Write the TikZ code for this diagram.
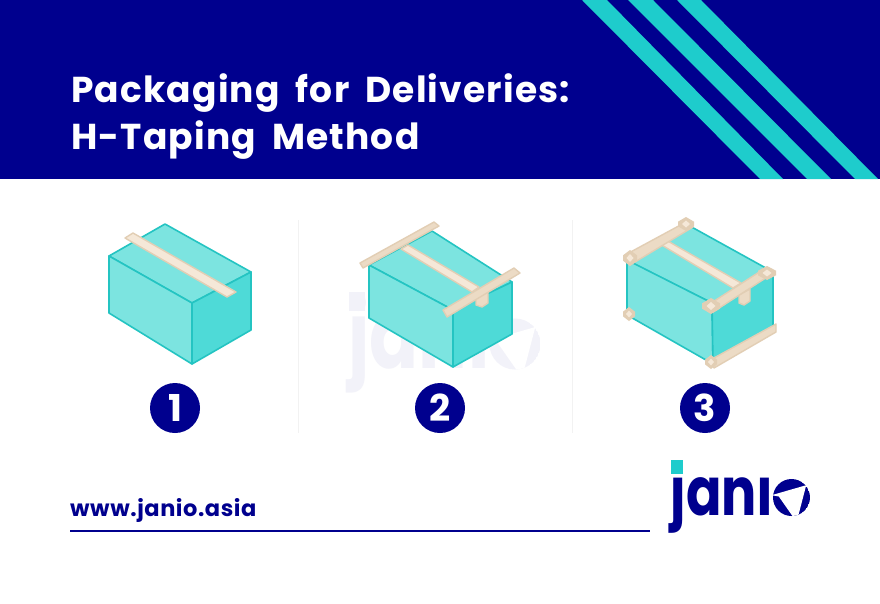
\documentclass[tikz,border=0pt]{standalone}
\usepackage{fontspec}
\usepackage{graphicx}
\setmainfont{Poppins}
\newfontfamily\titlefont[LetterSpace=3.3,WordSpace=1.8]{Poppins}
\newfontfamily\linkfont[LetterSpace=2.5]{Poppins}
\usepackage{tikz}
\definecolor{janionavy}{RGB}{0,0,142}
\definecolor{janioteal}{RGB}{30,204,204}
\definecolor{boxlight}{RGB}{124,228,224}
\definecolor{boxdark}{RGB}{78,218,215}
\definecolor{boxline}{RGB}{36,196,194}
\definecolor{tapefill}{RGB}{245,232,216}
\definecolor{tapetan}{RGB}{236,219,197}
\definecolor{tapeline}{RGB}{226,206,180}
\tikzset{
	boxface/.style={draw=boxline, line width=1.6pt, line join=round, fill=boxlight},
	boxside/.style={boxface, fill=boxdark},
	tape/.style={draw=tapeline, line width=1.4pt, line join=round, fill=tapefill},
	tapecross/.style={tape, fill=tapetan},
	stripe/.style={fill=janioteal},
	titleline/.style={anchor=base west, inner sep=0pt, text=white, font=\titlefont\fontsize{36}{36}\selectfont\bfseries},
	numberdot/.style={circle, fill=janionavy, text=white, minimum size=50pt, inner sep=0pt, font=\fontsize{37}{37}\selectfont\bfseries},
	divider/.style={draw=black!5, line width=1pt}
}
% logo, with the middle of its round mark at the origin of the scope
\def\janiologo[#1][#2][#3]{
	\node[anchor=base west, inner sep=0pt, text=#1, font=\fontsize{67}{67}\selectfont\bfseries] (#3) at (-121, 17.5) {\scalebox{0.78}[1]{janı}};
	\fill[#2] (-120.5, -38) rectangle (-109, -24);
	\begin{scope}
		\clip (0, 0) circle (18.5);
		\fill[#1] (0, 0) circle (18.5);
		\fill[white] (14.7, -12.3) -- (-20, -2.3) -- (-12.7, -1) -- (2, 20) -- (6.3, 20) -- cycle;
	\end{scope}
}
% corner wrap of the tape: middle, half width, half height
\def\tapecorner(#1,#2,#3,#4){
	\fill[tapeline] (#1-#3, #2-#4/3) -- (#1, #2-#4) -- (#1+#3, #2-#4/3) -- (#1+#3, #2+#4/3) -- (#1, #2+#4) -- (#1-#3, #2+#4/3) -- cycle;
	\fill[tapefill] (#1-#3/2, #2) -- (#1, #2-#4/2) -- (#1+#3/2, #2) -- (#1, #2+#4/2) -- cycle;
}

\begin{document}
\begin{tikzpicture}[x=1pt, y=-1pt]
	%%%%% START %%%%%
	\useasboundingbox (0, 0) rectangle (880, 603);
	\fill[white] (0, 0) rectangle (880, 603);

	% header
	\fill[janionavy] (0, 0) rectangle (880, 179);
	\fill[stripe] (582, 0) -- (607, 0) -- (783, 179) -- (760, 179) -- cycle;
	\fill[stripe] (628, 0) -- (653, 0) -- (831, 179) -- (807, 179) -- cycle;
	\fill[stripe] (677, 0) -- (701, 0) -- (878, 179) -- (855, 179) -- cycle;
	\node[titleline] (titleone) at (71, 102) {Packaging for Deliveries:};
	\node[titleline] (titletwo) at (71, 149) {H-Taping Method};

	% watermark
	\begin{scope}[shift={(515, 344)}, scale=1.38, transform shape]
		\janiologo[janionavy!5][janionavy!5][markwater]
	\end{scope}

	\draw[divider] (298.5, 220) -- (298.5, 433);
	\draw[divider] (572, 220) -- (572, 433);

	% box 1
	\draw[boxface] (109, 256) -- (165, 224) -- (251, 272) -- (192, 303) -- cycle;
	\draw[boxface] (109, 256) -- (192, 303) -- (192, 364) -- (109, 313) -- cycle;
	\draw[boxside] (192, 303) -- (251, 272) -- (251, 330) -- (192, 364) -- cycle;
	\draw[tape] (125, 238) -- (133, 233) -- (236, 292) -- (227, 297) -- cycle;

	% box 2
	\draw[boxface] (369, 265) -- (432, 231) -- (512, 282) -- (453, 310) -- cycle;
	\draw[boxface] (369, 265) -- (453, 310) -- (453, 367) -- (369, 318) -- cycle;
	\draw[boxside] (453, 310) -- (512, 282) -- (512, 334) -- (453, 367) -- cycle;
	\draw[tape] (401, 249) -- (408, 245) -- (479, 287) -- (472, 292) -- cycle;
	\draw[tapecross] (476, 295) -- (488, 290) -- (488, 303) -- (482, 307) -- (476, 305) -- cycle;
	\draw[tapecross] (360, 263) -- (434, 222) -- (439, 226) -- (363, 268) -- cycle;
	\draw[tapecross] (443, 310) -- (514, 268) -- (520, 273) -- (447, 317) -- cycle;

	% box 3
	\draw[boxface] (630, 262) -- (688, 225) -- (773, 272) -- (712, 303) -- cycle;
	\draw[boxface] (627, 260) -- (712, 303) -- (713, 364) -- (627, 315) -- cycle;
	\draw[boxside] (712, 303) -- (773, 272) -- (773, 327) -- (713, 364) -- cycle;
	\draw[tape] (660, 244) -- (666, 240) -- (741, 283) -- (733, 288) -- cycle;
	\draw[tapecross] (739, 295) -- (750, 289) -- (750, 301) -- (744, 305) -- (739, 303) -- cycle;
	\draw[tapecross] (625, 255) -- (686, 222) -- (693, 227) -- (630, 265) -- cycle;
	\draw[tapecross] (708, 305) -- (767, 267) -- (775, 272) -- (713, 312) -- cycle;
	\draw[tapecross] (712, 359) -- (776, 324) -- (776, 332) -- (714, 368) -- cycle;
	\tapecorner(686,224,8,7)
	\tapecorner(630,258,7,8)
	\tapecorner(711,306,9,8)
	\tapecorner(767,273,9,7)
	\tapecorner(629,314,6,7)
	\tapecorner(711,362,6,7)

	% numbers
	\node[numberdot] (stepone) at (175, 408) {1};
	\node[numberdot] (steptwo) at (440, 408) {2};
	\node[numberdot] (stepthree) at (705, 408) {3};

	% footer
	\node[anchor=base west, inner sep=0pt, text=janionavy, font=\linkfont\fontsize{22.5}{22.5}\selectfont\bfseries] (weblink) at (70, 516) {www.janio.asia};
	\draw[janionavy, line width=1.5pt] (70, 531) -- (650, 531);
	\begin{scope}[shift={(791.5, 497.5)}]
		\janiologo[janionavy][janioteal][markmain]
	\end{scope}
	%%%%% END %%%%%
\end{tikzpicture}
\end{document}
